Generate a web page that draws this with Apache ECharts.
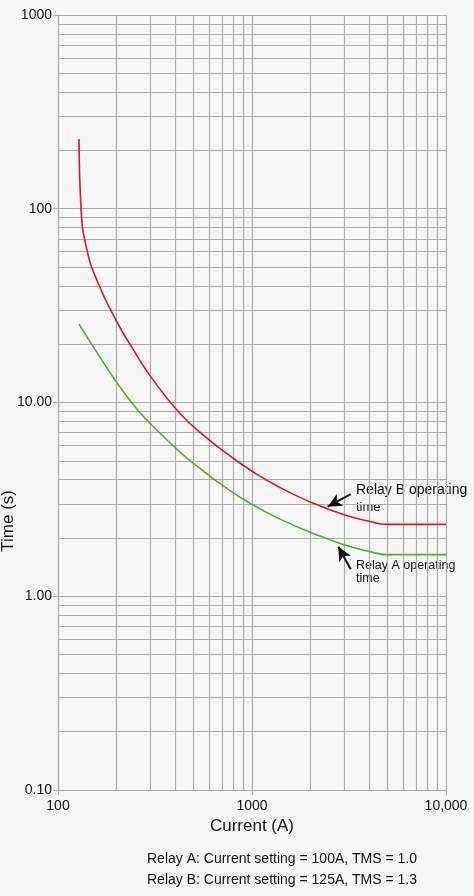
<!DOCTYPE html>
<html>
<head>
<meta charset="utf-8">
<script src="https://cdn.jsdelivr.net/npm/echarts@6/dist/echarts.min.js"></script>
<style>
  html, body { margin: 0; padding: 0; background: #f7f7f7; }
  #main { width: 474px; height: 896px; }
</style>
</head>
<body>
<div id="main"></div>
<script>
// current (A) / time (s)
var relayB = [
  [128.3, 229], [131.4, 100.9], [141.1, 61.2], [160.8, 41.4], [200.3, 26.3],
  [239.9, 19.3], [304.1, 13.4], [425.6, 8.77], [584.2, 6.56], [770, 5.30],
  [1016, 4.38], [1394, 3.64], [1991, 3.07], [2955, 2.64], [4057, 2.43],
  [4965, 2.35], [10000, 2.35]
];
var relayA = [
  [128.3, 25.4], [168, 16.6], [200.7, 12.7], [249.4, 9.51], [304.1, 7.65],
  [425.6, 5.55], [539.5, 4.57], [711.4, 3.71], [976.5, 3.02], [1394, 2.50],
  [2070, 2.11], [2955, 1.85], [4057, 1.70], [4948, 1.64], [10000, 1.64]
];
// minor grid lines
var xMinor = [200, 300, 400, 500, 600, 700, 800, 900,
  2000, 3000, 4000, 5000, 6000, 7000, 8000, 9000];
var yMinor = [0.2, 0.3, 0.4, 0.5, 0.6, 0.7, 0.8, 0.9,
  2, 3, 4, 5, 6, 7, 8, 9,
  20, 30, 40, 50, 60, 70, 80, 90,
  200, 300, 400, 500, 600, 700, 800, 900];
// tick labels per decade
var xTickLabels = { 2: '100', 3: '1000', 4: '10,000' };
var yTickLabels = { '-1': '0.10', 0: '1.00', 1: '10.00', 2: '100', 3: '1000' };
// arrows [tail, tip]
var arrowB = [[3228, 3.37], [2456, 2.90]];
var arrowA = [[3228, 1.377], [2785, 1.80]];

var gridColor = '#adadad';
var font = 'Liberation Sans, Arial, sans-serif';

var myChart = echarts.init(document.getElementById('main'));

var minorLines = [];
xMinor.forEach(function (v) { minorLines.push({ xAxis: v }); });
yMinor.forEach(function (v) { minorLines.push({ yAxis: v }); });

myChart.setOption({
  backgroundColor: '#f7f7f7',
  animation: false,
  grid: { left: 58, right: 28, top: 15, bottom: 106 },
  xAxis: {
    type: 'log',
    logBase: 10,
    min: 100,
    max: 10000,
    name: 'Current (A)',
    nameLocation: 'middle',
    nameGap: 28,
    nameTextStyle: { fontFamily: font, fontSize: 17, color: '#111' },
    axisLine: { lineStyle: { color: gridColor, width: 1.2 } },
    axisTick: { show: true, length: 5, lineStyle: { color: gridColor, width: 1.2 } },
    axisLabel: {
      margin: 9,
      fontFamily: font,
      fontSize: 14,
      color: '#111',
      formatter: function (value) {
        return xTickLabels[Math.round(Math.log10(value))] || '';
      }
    },
    splitLine: { show: true, lineStyle: { color: gridColor, width: 1.2 } }
  },
  yAxis: {
    type: 'log',
    logBase: 10,
    min: 0.1,
    max: 1000,
    axisLine: { show: true, lineStyle: { color: gridColor, width: 1.2 } },
    axisTick: { show: true, length: 5, lineStyle: { color: gridColor, width: 1.2 } },
    axisLabel: {
      margin: 6,
      fontFamily: font,
      fontSize: 14,
      color: '#111',
      formatter: function (value) {
        return yTickLabels[Math.round(Math.log10(value))] || '';
      }
    },
    splitLine: { show: true, lineStyle: { color: gridColor, width: 1.2 } }
  },
  series: [
    {
      name: 'grid',
      type: 'line',
      data: [],
      silent: true,
      markLine: {
        silent: true,
        symbol: ['none', 'none'],
        label: { show: false },
        lineStyle: { color: gridColor, width: 1.2, type: 'solid' },
        data: minorLines
      }
    },
    {
      name: 'Relay B',
      type: 'line',
      data: relayB,
      smooth: 0.5,
      showSymbol: false,
      lineStyle: { color: '#e0141e', width: 1.6 },
      z: 5
    },
    {
      name: 'Relay A',
      type: 'line',
      data: relayA,
      smooth: 0.5,
      showSymbol: false,
      lineStyle: { color: '#55ad2e', width: 1.6 },
      z: 5
    },
    {
      name: 'arrows',
      type: 'line',
      data: [],
      silent: true,
      z: 6,
      markLine: {
        silent: true,
        symbol: ['none', 'arrow'],
        symbolSize: [10, 14],
        label: { show: false },
        lineStyle: { color: '#111', width: 2, type: 'solid' },
        data: [
          [{ coord: arrowB[0] }, { coord: arrowB[1] }],
          [{ coord: arrowA[0] }, { coord: arrowA[1] }]
        ]
      }
    }
  ],
  graphic: [
    {
      type: 'text', left: 0, top: 490, rotation: Math.PI / 2,
      style: { text: 'Time (s)', font: '17px ' + font, fill: '#111' }
    },
    {
      type: 'text', x: 356, y: 490,
      style: { text: 'Relay B operating', font: '14px ' + font, fill: '#111',
        verticalAlign: 'middle', backgroundColor: '#f7f7f7', padding: [1, 2, 1, 0] }
    },
    {
      type: 'text', x: 356, y: 507,
      style: { text: 'time', font: '13px ' + font, fill: '#111',
        verticalAlign: 'middle', backgroundColor: '#f7f7f7', padding: [1, 2, 1, 0] }
    },
    {
      type: 'text', x: 356, y: 566,
      style: { text: 'Relay A operating', font: '12.5px ' + font, fill: '#111',
        verticalAlign: 'middle', backgroundColor: '#f7f7f7', padding: [1, 2, 1, 0] }
    },
    {
      type: 'text', x: 356, y: 579,
      style: { text: 'time', font: '12.5px ' + font, fill: '#111',
        verticalAlign: 'middle', backgroundColor: '#f7f7f7', padding: [1, 2, 1, 0] }
    },
    {
      type: 'text', x: 282, y: 859,
      style: { text: 'Relay A: Current setting = 100A, TMS = 1.0', font: '14px ' + font,
        fill: '#111', align: 'center', verticalAlign: 'middle' }
    },
    {
      type: 'text', x: 282, y: 880,
      style: { text: 'Relay B: Current setting = 125A, TMS = 1.3', font: '14px ' + font,
        fill: '#111', align: 'center', verticalAlign: 'middle' }
    }
  ]
});
</script>
</body>
</html>
